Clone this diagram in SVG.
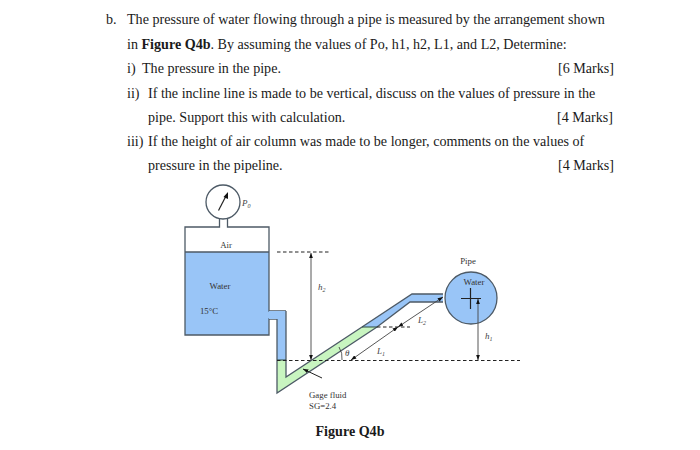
<svg xmlns="http://www.w3.org/2000/svg" width="700" height="450" viewBox="0 0 700 450">
<defs>
<marker id="arr" viewBox="0 0 8 6" refX="8" refY="3" markerWidth="5.500" markerHeight="4" orient="auto-start-reverse" markerUnits="userSpaceOnUse"><path d="M0 0L8 3L0 6z" fill="#111"/></marker>
</defs>
<style>
text{font-family:"Liberation Serif","Times New Roman",serif;fill:#1a1a1a}
.q{font-size:14.1px}
.s{font-size:8.8px;fill:#333}
.i{font-size:9px;font-style:italic;fill:#444}
.o{stroke:#4d5a66;stroke-width:1.3;fill:none}
.c{stroke:#4d5a66;stroke-width:1.3}
.d{stroke:#222;stroke-width:1.1;stroke-dasharray:3.5 2.5;fill:none}
.a{stroke:#444;stroke-width:.9;fill:none;marker-start:url(#arr);marker-end:url(#arr)}
</style>
<rect width="700" height="450" fill="#fff"/>
<g id="question">
<text class="q" x="106" y="24">b.</text>
<text class="q" x="127" y="24">The pressure of water flowing through a pipe is measured by the arrangement shown</text>
<text class="q" x="127" y="49">in <tspan font-weight="bold">Figure Q4b</tspan>. By assuming the values of Po, h1, h2, L1, and L2, Determine:</text>
<text class="q" x="127" y="73">i)</text>
<text class="q" x="142" y="73">The pressure in the pipe.</text>
<text class="q" x="558" y="73">[6 Marks]</text>
<text class="q" x="127" y="98">ii)</text>
<text class="q" x="148" y="98">If the incline line is made to be vertical, discuss on the values of pressure in the</text>
<text class="q" x="148" y="122">pipe. Support this with calculation.</text>
<text class="q" x="557" y="122">[4 Marks]</text>
<text class="q" x="127" y="146">iii)</text>
<text class="q" x="148" y="146">If the height of air column was made to be longer, comments on the values of</text>
<text class="q" x="148" y="170">pressure in the pipeline.</text>
<text class="q" x="558" y="170">[4 Marks]</text>
</g>
<g id="tank">
<rect x="185" y="252" width="84" height="83" fill="#99c5f7"/>
<path class="o" d="M185 252V227H219.5V218M227.5 218V227H269V252"/>
<path class="o" d="M185 252H269M185 252V335H269V319H277M269 252V311H286"/>
<text class="s" x="226" y="248" text-anchor="middle">Air</text>
<text class="s" x="220" y="289" text-anchor="middle">Water</text>
<text class="s" x="209" y="314" text-anchor="middle">15°C</text>
</g>
<g id="gauge">
<circle class="c" cx="223" cy="202" r="17" fill="#fff"/>
<path d="M218.500 210.500L226.500 195" stroke="#222" stroke-width="1.200" fill="none"/>
<path d="M228 192L228 199L223.500 197z" fill="#111"/>
<text class="i" x="242" y="206">P<tspan font-size="6" dy="2">0</tspan></text>
</g>
<g id="manometer">
<path d="M269 311H286V360H277V319H269z" fill="#99c5f7"/>
<path d="M277 360H286V377L362 327H377L277 393z" fill="#c8f5c0"/>
<path d="M362 327L412 294H443V302H410L377 327z" fill="#99c5f7"/>
<path class="o" d="M277 319V393L377 327L410 302H443M286 311V377L362 327L412 294H443"/>
<path d="M277 360H286M362 327H377" stroke="#2e4a40" stroke-width="1.200" fill="none"/>
</g>
<g id="pipe">
<circle class="c" cx="471" cy="298" r="26" fill="#99c5f7"/>
<path d="M461 298.500H481M470.500 288V309" stroke="#222" stroke-width="1.200" fill="none"/>
<text class="s" x="474" y="285" text-anchor="middle">Water</text>
<text class="s" x="468" y="264" text-anchor="middle">Pipe</text>
</g>
<g id="connectors">
<path class="d" d="M277 252H329M277 360.500H520M377 327H410"/>
<path class="a" d="M311 253V360"/>
<path class="a" d="M351 360L398 327"/>
<path class="a" d="M398 327L443 297"/>
<path class="a" d="M478 299V360"/>
<path d="M339 347A20 20 0 0 1 342 360" stroke="#333" stroke-width=".8" fill="none"/>
<path d="M322 378L303 369" stroke="#222" stroke-width="1" fill="none" marker-end="url(#arr)"/>
</g>
<g id="labels">
<text class="i" x="318" y="290">h<tspan font-size="6" dy="2">2</tspan></text>
<text class="i" x="345" y="356">θ</text>
<text class="i" x="377" y="354">L<tspan font-size="6" dy="2">1</tspan></text>
<text class="i" x="418" y="323">L<tspan font-size="6" dy="2">2</tspan></text>
<text class="i" x="485" y="339">h<tspan font-size="6" dy="2">1</tspan></text>
<text class="s" x="309" y="398">Gage fluid</text>
<text class="s" x="309" y="409">SG=2.4</text>
<text x="350" y="436" font-size="14.100" font-weight="bold" text-anchor="middle">Figure Q4b</text>
</g>
</svg>
